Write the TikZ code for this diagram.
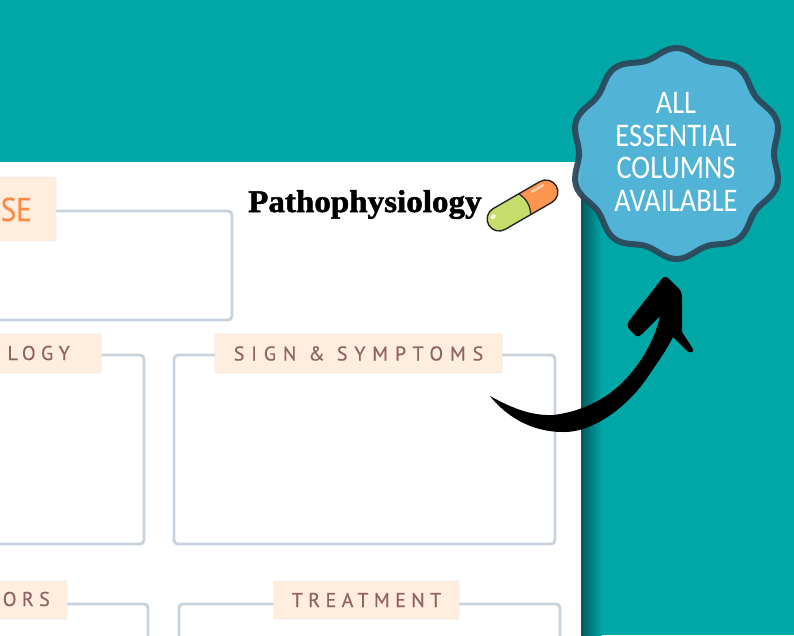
\documentclass[tikz,border=0pt]{standalone}
\usepackage{fontspec}
\setmainfont{PT Sans}
\newfontfamily\titlefont[FakeStretch=1.05, BoldFeatures={FakeBold=1.6}]{Liberation Serif}
\newfontfamily\badgefont[FakeStretch=0.86]{Carlito}
\definecolor{tealbg}{HTML}{00A7A7}
\definecolor{tealdark}{HTML}{005B5E}
\definecolor{panelline}{HTML}{C9D3DD}
\definecolor{tabfill}{HTML}{FFEDDE}
\definecolor{tabline}{HTML}{EFE9E4}
\definecolor{tabtext}{HTML}{8F6464}
\definecolor{orangetext}{HTML}{FB8A45}
\definecolor{badgefill}{HTML}{56B4D9}
\definecolor{badgeline}{HTML}{2C4659}
\definecolor{pillgreen}{HTML}{C6DD6C}
\definecolor{pillorange}{HTML}{FB9550}
\tikzset{
    panelbox/.style={draw=panelline, line width=2.9pt, rounded corners=4pt},
    tabbox/.style={draw=tabline, fill=tabfill, line width=0.8pt, rounded corners=1pt, minimum height=39pt, inner sep=0pt, text=tabtext},
    tabwide/.style={font=\fontsize{20}{24}\selectfont\addfontfeatures{LetterSpace=34, FakeBold=0.3}},
    tabtight/.style={font=\fontsize{20}{24}\selectfont\addfontfeatures{LetterSpace=27, FakeBold=0.3}},
}
\begin{document}
\begin{tikzpicture}[x=1pt, y=-1pt]
        \clip (0,0) rectangle (794,635);
        \fill[tealbg] (0,0) rectangle (794,635);
        \shade[left color=tealdark, right color=tealbg] (581,175) rectangle (602,635);
        \fill[white] (0,162) rectangle (581,635);
        % panels
        \draw[panelbox] (-20,211) rectangle (232,320);
        \draw[panelbox] (-20,355) rectangle (144,544);
        \draw[panelbox] (174,355) rectangle (555,544);
        \draw[panelbox] (-20,604) rectangle (148,660);
        \draw[panelbox] (179,604) rectangle (560,660);
        % tabs
        \node[tabbox, minimum width=76pt, minimum height=64pt] (tabtop) at (18,209) {};
        \node[anchor=base east, inner sep=0pt, text=orangetext, font=\fontsize{33}{36}\selectfont\addfontfeatures{FakeStretch=0.88, FakeBold=0.3}] (toptext) at (32,221) {SE};
        \node[tabbox, minimum width=121pt] (tableft) at (40.5,353.5) {};
        \node[anchor=base east, inner sep=0pt, text=tabtext, tabtight] (lefttext) at (70,360) {LOGY};
        \node[tabbox, tabwide, minimum width=287pt] (tabsign) at (358.5,353.5) {SIGN \& SYMPTOMS};
        \node[tabbox, minimum width=87pt, minimum height=38pt] (tabors) at (23.5,600) {};
        \node[anchor=base east, inner sep=0pt, text=tabtext, tabtight] (orstext) at (50,606) {ORS};
        \node[tabbox, tabtight, minimum width=185pt, minimum height=38pt] (tabtreat) at (366.5,600) {TREATMENT};
        % title and pill
        \node[anchor=base west, inner sep=0pt, font=\fontsize{31.5}{34}\selectfont\titlefont\bfseries] (title) at (248,212) {Pathophysiology};
        \begin{scope}[shift={(522.5,205.5)}, rotate=30]
            \begin{scope}
                \clip[rounded corners=12pt] (-39,-12) rectangle (39,12);
                \fill[pillgreen] (-40,-13) rectangle (40,13);
                \fill[pillorange] (2,-13) .. controls (7,-4) and (7,4) .. (2,13) -- (40,13) -- (40,-13) -- cycle;
                \draw[black!85, line width=1.2pt] (2,-13) .. controls (7,-4) and (7,4) .. (2,13);
            \end{scope}
            \draw[black!85, line width=1.4pt, rounded corners=12pt] (-39,-12) rectangle (39,12);
            \fill[white, opacity=.8] (-31,-5) ellipse (3pt and 2pt);
            \fill[white, opacity=.55, rounded corners=1pt] (14,-8.5) rectangle (29,-6);
        \end{scope}
        % badge
        \draw[fill=badgefill, draw=badgeline, line width=6pt, fill opacity=.95, draw opacity=.92, smooth, samples=161, domain=0:360, variable=\t]
            plot ({676.5+(101.5+4*cos(10*(\t-90)))*cos(\t)}, {153.5+(101.5+4*cos(10*(\t-90)))*sin(\t)}) -- cycle;
        \node[align=center, inner sep=0pt, text=white, font=\fontsize{33}{32.7}\selectfont\badgefont] (badgetext) at (676,152) {ALL\\ESSENTIAL\\COLUMNS\\AVAILABLE};
        % arrow
        \fill[black] (490,396) .. controls (505,415) and (530,432) .. (563,432)
            .. controls (590,433) and (625,410) .. (647,378)
            .. controls (658,362) and (667,349) .. (673,337)
            -- (687,351) .. controls (690,353) and (694,353) .. (693,349)
            -- (682,332) -- (682,298) .. controls (682,292) and (680,289) .. (676,286)
            -- (668,278) .. controls (665,276) and (663,277) .. (661,280)
            -- (629,321) .. controls (627,324) and (627,327) .. (630,330)
            -- (636,336) .. controls (638,337) and (640,336) .. (642,334)
            -- (660,316) .. controls (655,340) and (640,365) .. (623,382)
            .. controls (605,400) and (580,412) .. (553,415)
            .. controls (530,416) and (510,407) .. (490,396) -- cycle;
    \end{tikzpicture}
\end{document}
